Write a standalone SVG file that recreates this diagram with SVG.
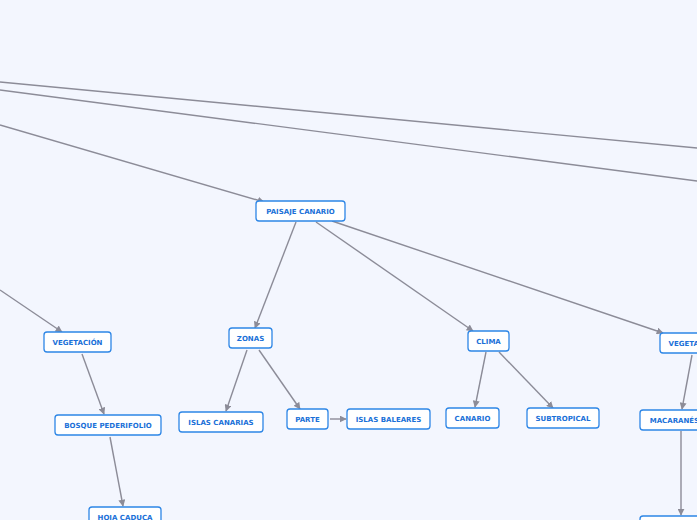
<svg xmlns="http://www.w3.org/2000/svg" width="697" height="520" viewBox="0 0 697 520">
<style>
.n rect{fill:#fff;stroke:#2d86e6;stroke-width:1.3}
.n text{font-family:"DejaVu Sans",Verdana,sans-serif;font-weight:bold;font-size:7px;fill:#1a70d8;text-anchor:middle}
.c line{stroke:#8c8c98;stroke-width:1.4;fill:none}
.a{marker-end:url(#ar)}
</style>
<defs><marker id="ar" viewBox="0 0 10 10" refX="9" refY="5" markerWidth="5" markerHeight="5" orient="auto"><path d="M0,0L10,5L0,10z" fill="#8c8c98"/></marker></defs>
<rect width="697" height="520" fill="#f3f6fe"/>
<g class="c">
<line x1="0" y1="82" x2="697" y2="148"/>
<line x1="0" y1="90" x2="697" y2="181"/>
<line class="a" x1="0" y1="125" x2="264" y2="202"/>
<line class="a" x1="0" y1="290" x2="62" y2="332"/>
<line class="a" x1="296" y1="222" x2="255" y2="328"/>
<line class="a" x1="316" y1="222" x2="473" y2="331"/>
<line class="a" x1="332" y1="221" x2="663" y2="333"/>
<line class="a" x1="247" y1="350" x2="226" y2="411"/>
<line class="a" x1="259" y1="350" x2="300" y2="409"/>
<line class="a" x1="330" y1="419" x2="346" y2="419"/>
<line class="a" x1="486" y1="352" x2="475" y2="407"/>
<line class="a" x1="499" y1="352" x2="553" y2="408"/>
<line class="a" x1="692" y1="355" x2="682" y2="409"/>
<line class="a" x1="681" y1="431" x2="681" y2="515"/>
<line class="a" x1="82" y1="354" x2="104" y2="414"/>
<line class="a" x1="110" y1="437" x2="123" y2="506"/>
</g>
<g id="paisaje" class="n"><rect x="256" y="201" width="89" height="20" rx="3"/><text x="300.5" y="213.5">PAISAJE CANARIO</text></g>
<g id="veg1" class="n"><rect x="44" y="332" width="67" height="20" rx="3"/><text x="77.5" y="344.5">VEGETACIÓN</text></g>
<g id="zonas" class="n"><rect x="229" y="328" width="43" height="20" rx="3"/><text x="250.5" y="340.5">ZONAS</text></g>
<g id="clima" class="n"><rect x="468" y="331" width="41" height="20" rx="3"/><text x="488.5" y="343.5">CLIMA</text></g>
<g id="veg2" class="n"><rect x="660" y="333" width="67" height="20" rx="3"/><text x="693.5" y="345.5">VEGETACIÓN</text></g>
<g id="bosque" class="n"><rect x="55" y="415" width="106" height="20" rx="3"/><text x="108" y="427.5">BOSQUE PEDERIFOLIO</text></g>
<g id="canarias" class="n"><rect x="179" y="412" width="84" height="20" rx="3"/><text x="221" y="424.5">ISLAS CANARIAS</text></g>
<g id="parte" class="n"><rect x="287" y="409" width="41" height="20" rx="3"/><text x="307.5" y="421.5">PARTE</text></g>
<g id="baleares" class="n"><rect x="347" y="409" width="83" height="20" rx="3"/><text x="388.5" y="421.5">ISLAS BALEARES</text></g>
<g id="canario" class="n"><rect x="446" y="408" width="53" height="20" rx="3"/><text x="472.5" y="420.5">CANARIO</text></g>
<g id="subtropical" class="n"><rect x="527" y="408" width="72" height="20" rx="3"/><text x="563" y="420.5">SUBTROPICAL</text></g>
<g id="macaronesica" class="n"><rect x="640" y="410" width="82" height="20" rx="3"/><text x="681" y="422.5">MACARANÉSICA</text></g>
<g id="hoja" class="n"><rect x="89" y="507" width="72" height="20" rx="3"/><text x="125" y="519.5">HOJA CADUCA</text></g>
<g id="bottomright" class="n"><rect x="640" y="516" width="82" height="20" rx="3"/></g>
</svg>
